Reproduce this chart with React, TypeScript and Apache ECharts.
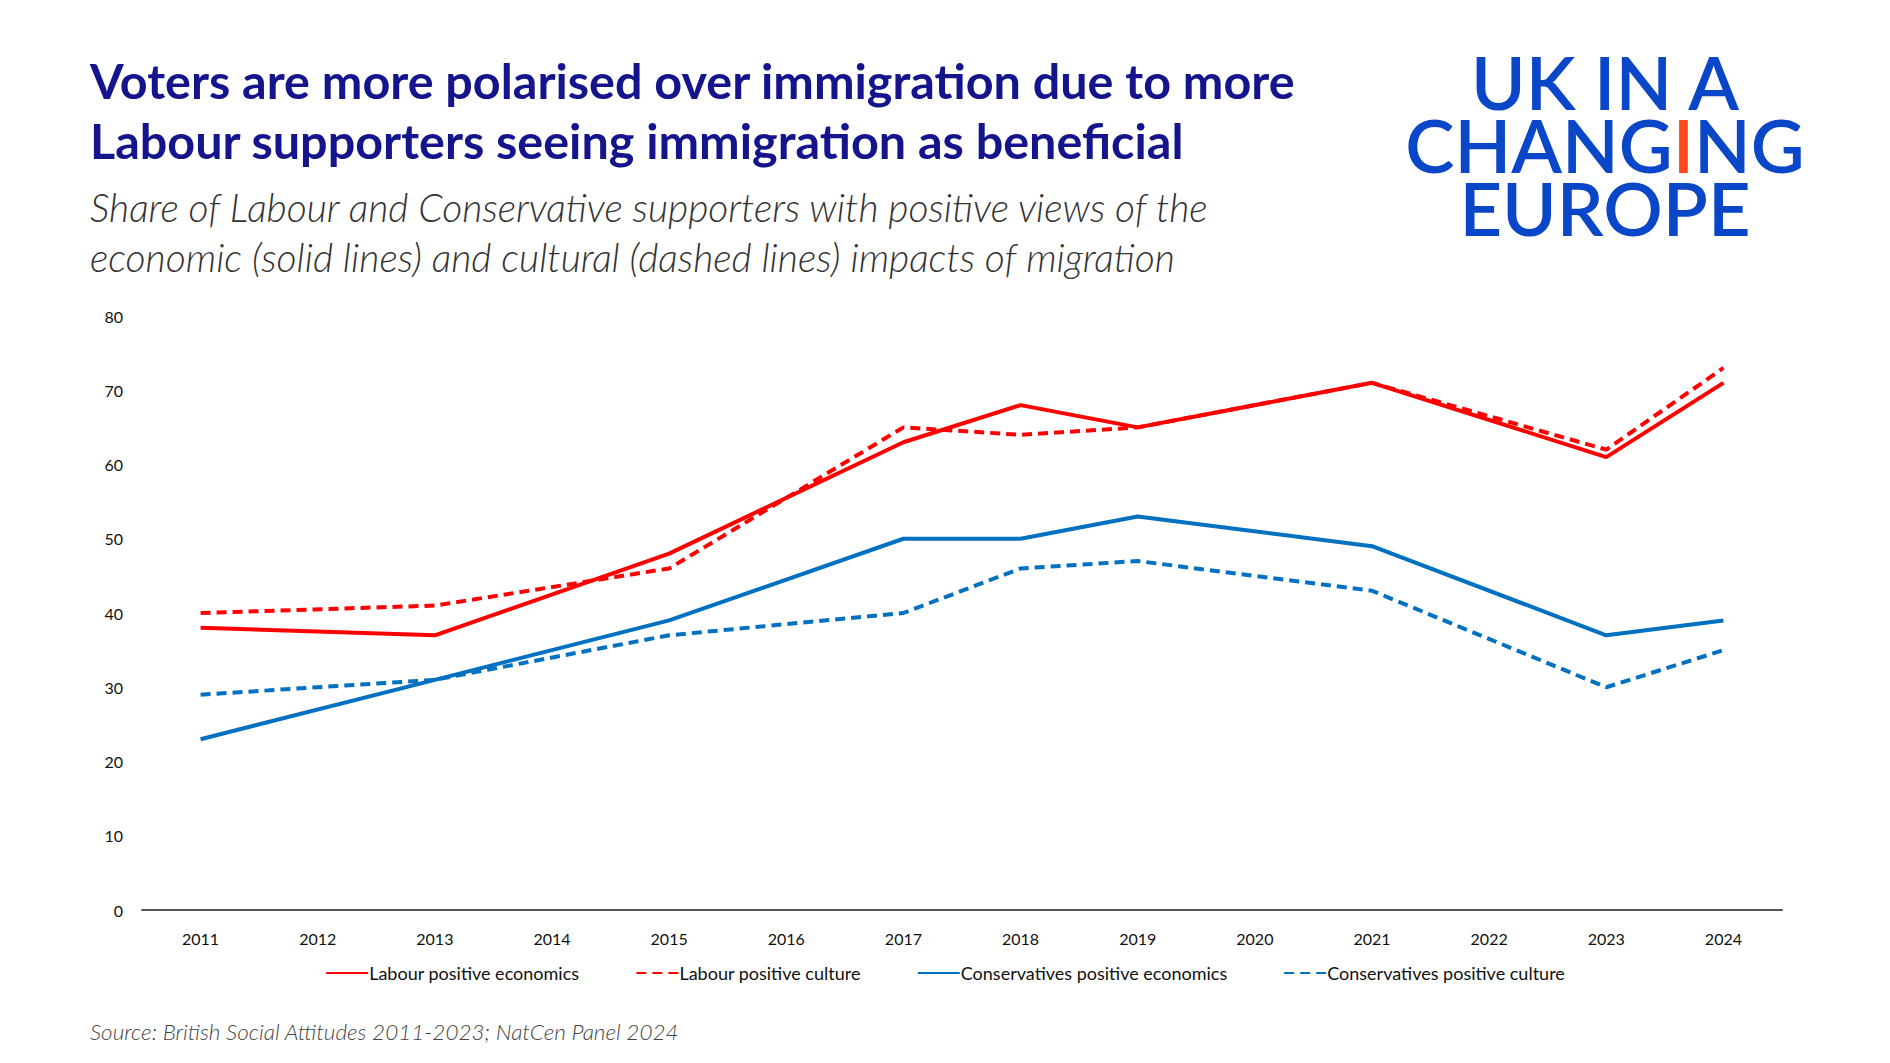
import React, { useEffect, useRef } from "react";
import * as echarts from "echarts";

const years = ["2011", "2012", "2013", "2014", "2015", "2016", "2017", "2018", "2019", "2020", "2021", "2022", "2023", "2024"];
const labourEconomics = [38, null, 37, null, 48, null, 63, 68, 65, null, 71, null, 61, 71];
const labourCulture = [40, null, 41, null, 46, null, 65, 64, 65, null, 71, null, 62, 73];
const conEconomics = [23, null, 31, null, 39, null, 50, 50, 53, null, 49, null, 37, 39];
const conCulture = [29, null, 31, null, 37, null, 40, 46, 47, null, 43, null, 30, 35];
const seriesNames = [
  "Labour positive economics",
  "Labour positive culture",
  "Conservatives positive economics",
  "Conservatives positive culture",
];

const RED = "#ff0000";
const BLUE = "#0070c0";
const LOGO_BLUE = "#0a47c8";
const LOGO_ORANGE = "#ff4a1c";
const FONT = "Lato";

export default function App() {
  const ref = useRef<HTMLDivElement>(null);
  useEffect(() => {
    const chart = echarts.init(ref.current!, null, { renderer: "svg" });
    const mk = (name: string, data: (number | null)[], color: string, dashed: boolean) => ({
      name,
      type: "line",
      data,
      connectNulls: true,
      symbol: "none",
      lineStyle: { color, width: 4, type: dashed ? [10, 6] : "solid" },
      itemStyle: { color },
    });
    chart.setOption({
      animation: false,
      backgroundColor: "#ffffff",
      grid: { left: 142, right: 108, top: 316, bottom: 153 },
      xAxis: {
        type: "category",
        data: years,
        boundaryGap: true,
        axisLine: { lineStyle: { color: "#555", width: 2 } },
        axisTick: { show: false },
        axisLabel: { color: "#111", fontFamily: FONT, fontSize: 16, margin: 20 },
      },
      yAxis: {
        type: "value",
        min: 0,
        max: 80,
        interval: 10,
        splitLine: { show: false },
        axisLine: { show: false },
        axisTick: { show: false },
        axisLabel: { color: "#111", fontFamily: FONT, fontSize: 16, margin: 19 },
      },
      legend: {
        data: seriesNames,
        bottom: 76,
        left: "center",
        itemWidth: 42,
        itemHeight: 14,
        itemGap: 56,
        itemStyle: { opacity: 0 },
        textStyle: { color: "#111", fontFamily: FONT, fontSize: 18, padding: [0, 0, 0, -4] },
      },
      series: [
        mk(seriesNames[0], labourEconomics, RED, false),
        mk(seriesNames[1], labourCulture, RED, true),
        mk(seriesNames[2], conEconomics, BLUE, false),
        mk(seriesNames[3], conCulture, BLUE, true),
      ],
      graphic: [
        {
          type: "text",
          left: 90,
          top: 50,
          style: {
            text: "Voters are more polarised over immigration due to more\nLabour supporters seeing immigration as beneficial",
            fill: "#14148c",
            font: `bold 48.5px ${FONT}`,
            lineHeight: 60,
          },
        },
        {
          type: "text",
          left: 90,
          top: 182,
          style: {
            text: "Share of Labour and Conservative supporters with positive views of the\neconomic (solid lines) and cultural (dashed lines) impacts of migration",
            fill: "#333",
            font: `italic 300 39px ${FONT}`,
            lineHeight: 50,
          },
        },
        {
          type: "text",
          left: 90,
          top: 1020,
          style: {
            text: "Source: British Social Attitudes 2011-2023; NatCen Panel 2024",
            fill: "#444",
            font: `italic 300 22.5px ${FONT}`,
          },
        },
        {
          type: "text",
          x: 1605,
          y: 50,
          style: {
            text: "{b|UK IN A}\n{b|CHANG}{o|I}{b|NG}\n{b|EUROPE}",
            align: "center",
            verticalAlign: "top",
            lineHeight: 63,
            rich: {
              b: { fill: LOGO_BLUE, font: `600 74px ${FONT}`, lineHeight: 63 },
              o: { fill: LOGO_ORANGE, font: `600 74px ${FONT}`, lineHeight: 63 },
            },
          },
        },
      ],
    });
    return () => chart.dispose();
  }, []);
  return (
    <div
      ref={ref}
      style={{ position: "absolute", left: 0, top: 0, width: 1890, height: 1063 }}
    />
  );
}
